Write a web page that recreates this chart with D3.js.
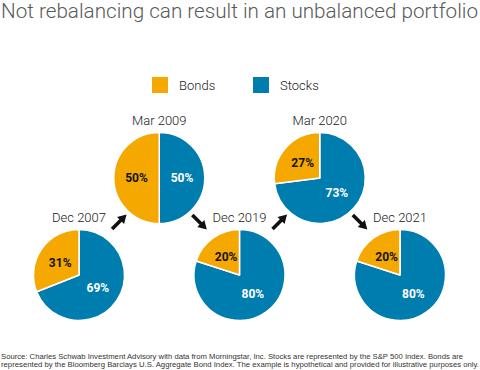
<!DOCTYPE html>
<html><head><meta charset="utf-8">
<script src="https://cdn.jsdelivr.net/npm/d3@7"></script>
<style>html,body{margin:0;padding:0;background:#fff;}svg{display:block;}</style>
</head><body>
<svg id="c" width="480" height="370"></svg>
<script>
const dates = ["Dec 2007", "Mar 2009", "Dec 2019", "Mar 2020", "Dec 2021"];
const stocks = [69, 50, 80, 73, 80];
const bonds = [31, 50, 20, 27, 20];
const seriesNames = ["Bonds", "Stocks"];
const colors = {Bonds: "#F5A800", Stocks: "#007DAF"};
const title = "Not rebalancing can result in an unbalanced portfolio";
const notes = [
  "Source: Charles Schwab Investment Advisory with data from Morningstar, Inc. Stocks are represented by the S&P 500 Index. Bonds are",
  "represented by the Bloomberg Barclays U.S. Aggregate Bond Index. The example is hypothetical and provided for illustrative purposes only."
];

const svg = d3.select("#c");
const font = "Roboto, 'Open Sans', sans-serif";

svg.append("text").attr("x", 1).attr("y", 18)
  .attr("font-family", font).attr("font-weight", 300).attr("font-size", 19.5)
  .attr("fill", "#58595B").attr("textLength", 477).attr("lengthAdjust", "spacingAndGlyphs")
  .text(title);

// legend
const leg = svg.append("g");
const legX = d3.scalePoint().domain(seriesNames).range([152, 253]);
seriesNames.forEach(s => {
  leg.append("rect").attr("x", legX(s)).attr("y", 77).attr("width", 16).attr("height", 16).attr("fill", colors[s]);
  leg.append("text").attr("x", legX(s) + 27).attr("y", 90)
    .attr("font-family", font).attr("font-weight", 300).attr("font-size", 13).attr("fill", "#222").text(s);
});

const R = 45.5;
const x = d3.scalePoint().domain(dates).range([79, 400]);
const y = d3.scaleOrdinal().domain([0, 1]).range([275, 178]);
const pie = d3.pie().sort(null).value(d => d.v);
const arc = d3.arc().innerRadius(0).outerRadius(R);
const labelArc = d3.arc().innerRadius(R * 0.5).outerRadius(R * 0.5);

dates.forEach((dt, i) => {
  const cx = x(dt), cy = y(i % 2);
  const g = svg.append("g").attr("transform", `translate(${cx},${cy})`);
  const data = [{k: "Stocks", v: stocks[i]}, {k: "Bonds", v: bonds[i]}];
  const arcs = pie(data);
  g.selectAll("path").data(arcs).enter().append("path")
    .attr("d", arc).attr("fill", d => colors[d.data.k])
    .attr("stroke", "#fff").attr("stroke-width", 1.5).attr("stroke-linejoin", "round");
  g.selectAll("text.p").data(arcs).enter().append("text")
    .attr("transform", d => `translate(${labelArc.centroid(d)})`)
    .attr("text-anchor", "middle").attr("dy", "0.36em")
    .attr("font-family", font).attr("font-weight", 700).attr("font-size", 12)
    .attr("fill", d => d.data.k === "Bonds" ? "#111" : "#fff")
    .text(d => d.data.v + "%");
  svg.append("text").attr("x", cx).attr("y", cy - R - 8)
    .attr("text-anchor", "middle").attr("font-family", font).attr("font-weight", 300).attr("font-size", 13)
    .attr("fill", "#222").text(dt);
});

// arrows
for (let i = 0; i < dates.length - 1; i++) {
  const x0 = x(dates[i]), y0 = y(i % 2), x1 = x(dates[i + 1]), y1 = y((i + 1) % 2);
  const mx = (x0 + x1) / 2, my = (y0 + y1) / 2 - 4.5;
  const ang = y1 < y0 ? -45 : 45;
  svg.append("path")
    .attr("d", "M-10,-1.8 L2,-1.8 L2,-5 L10.5,0 L2,5 L2,1.8 L-10,1.8 Z")
    .attr("transform", `translate(${mx},${my}) rotate(${ang})`)
    .attr("fill", "#111");
}

const noteLen = [462, 478];
notes.forEach((t, i) => {
  svg.append("text").attr("x", 1).attr("y", 358.5 + i * 8)
    .attr("font-family", "'Liberation Sans', Arial, sans-serif").attr("font-size", 7.6)
    .attr("textLength", noteLen[i]).attr("lengthAdjust", "spacingAndGlyphs")
    .attr("fill", "#333").text(t);
});
</script>
</body></html>
